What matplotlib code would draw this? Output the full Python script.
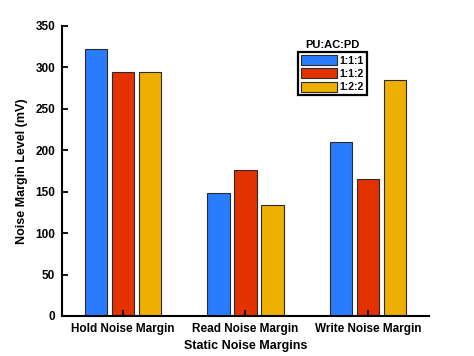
import numpy as np
import matplotlib.pyplot as plt

plt.rcParams['font.family'] = ['Liberation Sans', 'DejaVu Sans']
plt.rcParams['font.weight'] = 'bold'

categories = ['Hold Noise Margin', 'Read Noise Margin', 'Write Noise Margin']
series_names = ['1:1:1', '1:1:2', '1:2:2']
vals_111 = [322, 148, 210]
vals_112 = [295, 176, 165]
vals_122 = [295, 134, 285]

colors = ['#2a7cff', '#e33200', '#edb000']

fig = plt.figure(figsize=(4.74, 3.56), dpi=100)
ax = fig.add_axes([62/474, 40/356, 367/474, 290/356])

x = np.arange(1, 4)
w = 0.182
off = 0.22
for i, (vals, name) in enumerate(zip([vals_111, vals_112, vals_122], series_names)):
    ax.bar(x + (i - 1) * off, vals, w, color=colors[i], edgecolor='#2b2b2b',
           linewidth=0.8, label=name)

ax.set_xlim(0.5, 3.5)
ax.set_ylim(0, 350)
ax.set_xticks(x)
ax.set_xticklabels(categories)
ax.set_yticks(range(0, 351, 50))
ax.tick_params(direction='in', length=4, width=1.3, labelsize=8.5, pad=5)
for lab in ax.get_xticklabels() + ax.get_yticklabels():
    lab.set_fontweight('bold')
ax.spines['top'].set_visible(False)
ax.spines['right'].set_visible(False)
ax.spines['left'].set_linewidth(1.5)
ax.spines['bottom'].set_linewidth(1.5)

ax.set_xlabel('Static Noise Margins', fontsize=9, fontweight='bold', labelpad=4)
ax.set_ylabel('Noise Margin Level (mV)', fontsize=9, fontweight='bold', labelpad=5)

leg = ax.legend(loc='upper left', bbox_to_anchor=(0.643, 0.91), fontsize=7.5,
                handlelength=3.4, handleheight=1.1, handletextpad=0.3,
                labelspacing=0.25, borderpad=0.3, borderaxespad=0,
                fancybox=False, edgecolor='black', framealpha=1)
leg.get_frame().set_linewidth(1.6)
for t in leg.get_texts():
    t.set_fontweight('bold')
ax.text(0.737, 0.935, 'PU:AC:PD', transform=ax.transAxes, ha='center',
        va='center', fontsize=8, fontweight='bold')

fig.savefig('out.png', dpi=100)
